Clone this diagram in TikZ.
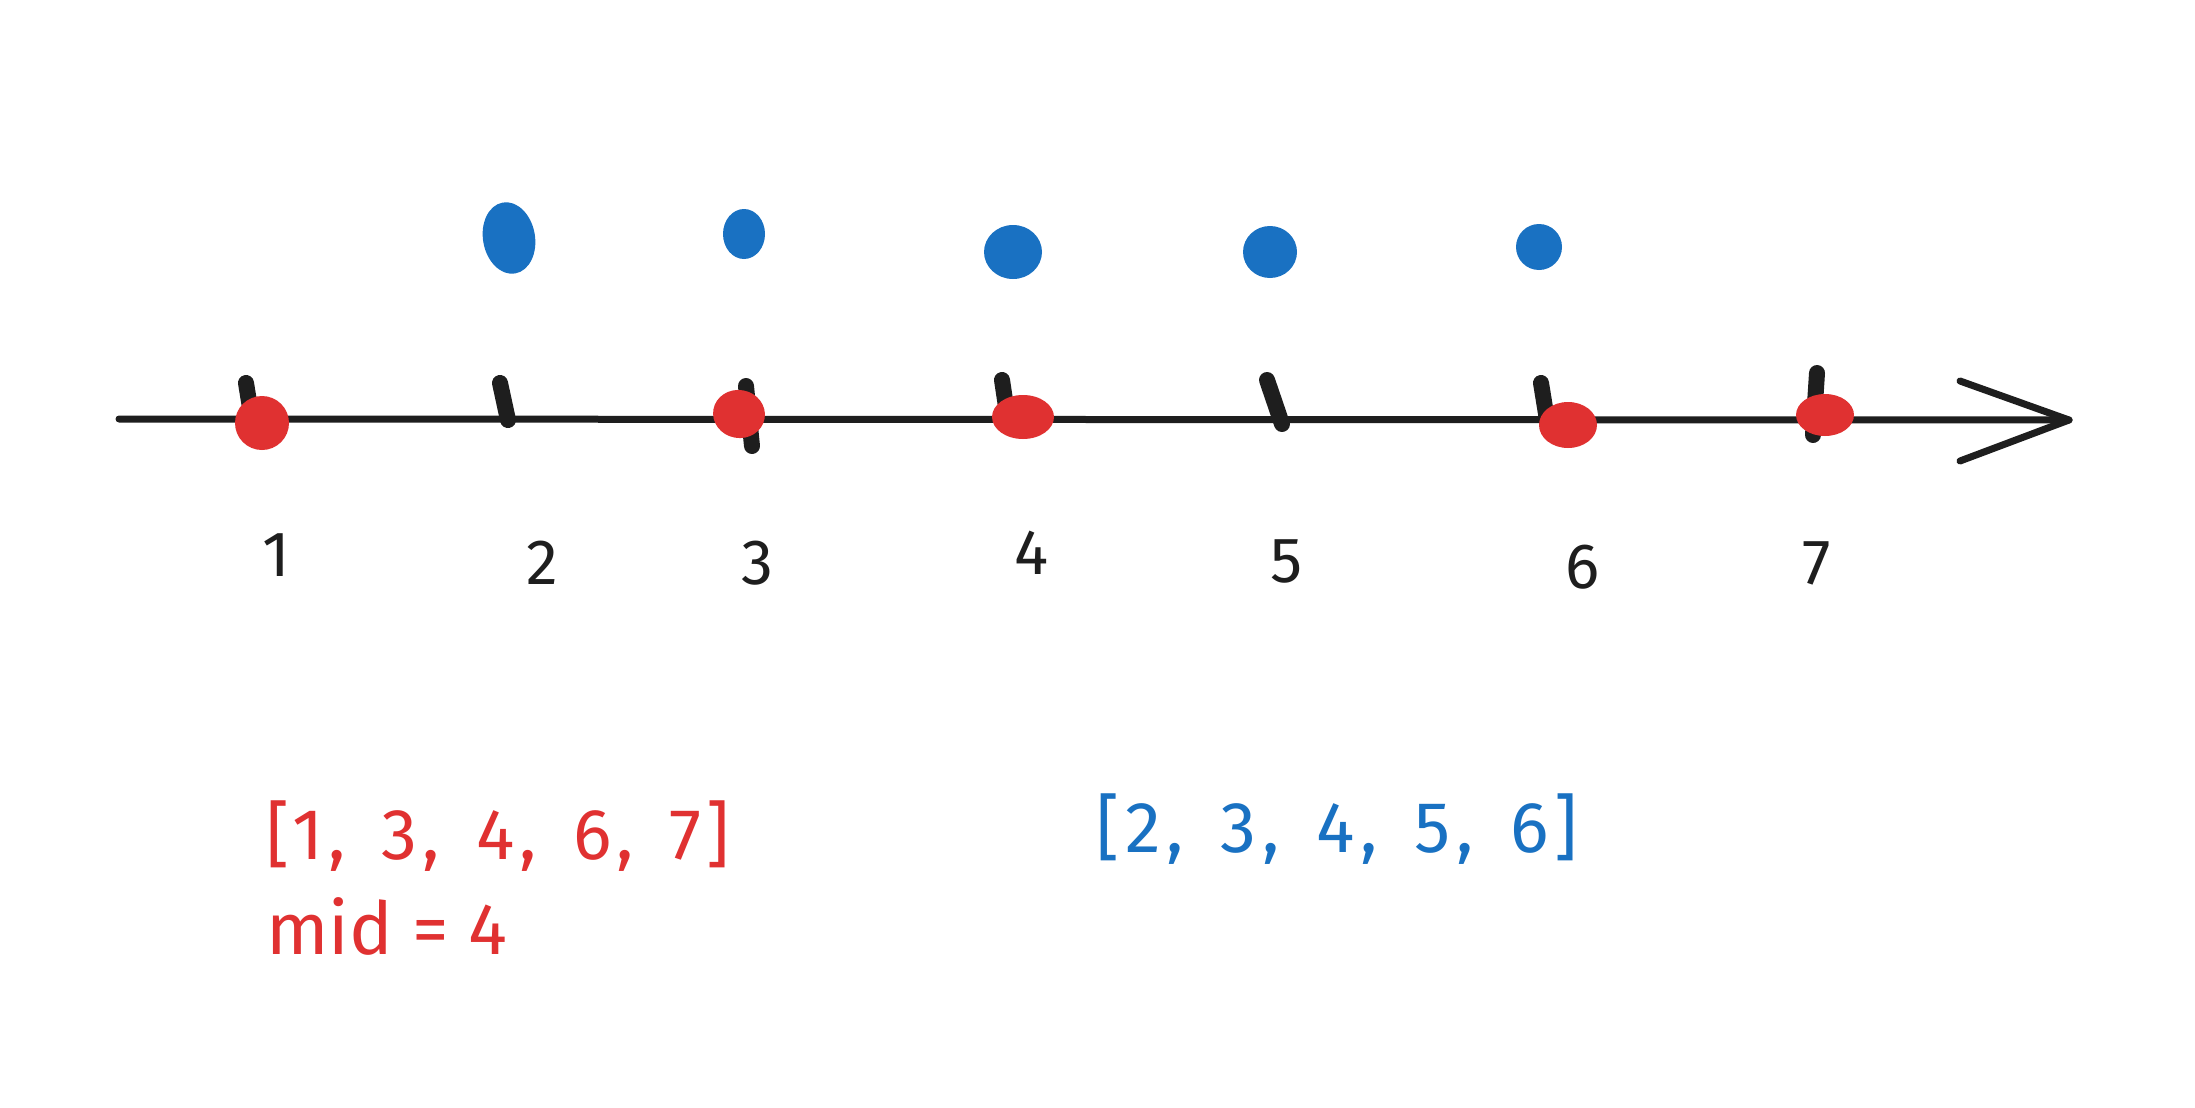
\documentclass[tikz,border=0pt]{standalone}
\usepackage{fontspec}
\setmainfont{Fira Sans}
\definecolor{ink}{HTML}{1E1E1E}
\definecolor{exred}{HTML}{E03131}
\definecolor{exblue}{HTML}{1971C2}
\begin{document}
\begin{tikzpicture}[x=1pt,y=-1pt,
  axisline/.style={draw=ink,line width=7pt,line cap=round,line join=round},
  tickmark/.style={draw=ink,line width=16pt,line cap=round},
  reddot/.style={fill=exred},
  bluedot/.style={fill=exblue},
  numlbl/.style={text=ink,font=\fontsize{64}{72}\selectfont,inner sep=0pt},
  redtxt/.style={text=exred,font=\fontsize{72}{84}\selectfont\addfontfeatures{LetterSpace=7},inner sep=0pt,anchor=west},
  midstyle/.style={text=exred,font=\fontsize{73}{84}\selectfont,inner sep=0pt,anchor=west},
  bluetxt/.style={text=exblue,font=\fontsize{72}{84}\selectfont\addfontfeatures{LetterSpace=8},inner sep=0pt,anchor=west}]
\useasboundingbox[fill=white] (0,0) rectangle (2195,1108);
% axis
\coordinate (axL) at (119,419);
\coordinate (axR) at (2069,420);
\coordinate (arU) at (1960,381);
\coordinate (arD) at (1960,461);
\draw[axisline] (axL) -- (axR);
\draw[axisline] (arU) -- (axR) -- (arD);
% ticks
\draw[tickmark] (246,383) -- (252,420);
\draw[tickmark] (500,383) -- (508,420);
\draw[tickmark] (746,386) -- (752,446);
\draw[tickmark] (1002,380) -- (1008,420);
\draw[tickmark] (1267,380) -- (1282,424);
\draw[tickmark] (1541,383) -- (1547,420);
\draw[tickmark] (1817,373) -- (1813,435);
% red dots
\fill[reddot] (262,423) ellipse [x radius=27,y radius=27];
\fill[reddot,rotate around={-10:(739,414)}] (739,414) ellipse [x radius=26,y radius=24];
\fill[reddot] (1023,417) ellipse [x radius=31,y radius=22];
\fill[reddot] (1568,425) ellipse [x radius=29,y radius=23];
\fill[reddot] (1825,415) ellipse [x radius=29,y radius=21];
% blue dots
\fill[bluedot,rotate around={10:(509,238)}] (509,238) ellipse [x radius=26,y radius=36];
\fill[bluedot] (744,234) ellipse [x radius=21,y radius=25];
\fill[bluedot] (1013,252) ellipse [x radius=29,y radius=27];
\fill[bluedot] (1270,252) ellipse [x radius=27,y radius=26];
\fill[bluedot] (1539,247) ellipse [x radius=23,y radius=23];
% numbers
\node[numlbl] (n1) at (276,555) {1};
\node[numlbl] (n2) at (542,563) {2};
\node[numlbl] (n3) at (757,563) {3};
\node[numlbl] (n4) at (1032,553) {4};
\node[numlbl] (n5) at (1287,561) {5};
\node[numlbl] (n6) at (1583,567) {6};
\node[numlbl] (n7) at (1817,563) {7};
% lists
\node[redtxt] (redlist) at (266,836) {[1,\, 3,\, 4,\, 6,\, 7]};
\node[midstyle] (midtxt) at (266,926) {mid = 4};
\node[bluetxt] (bluelist) at (1096,829) {[2,\, 3,\, 4,\, 5,\, 6]};
\end{tikzpicture}
\end{document}
